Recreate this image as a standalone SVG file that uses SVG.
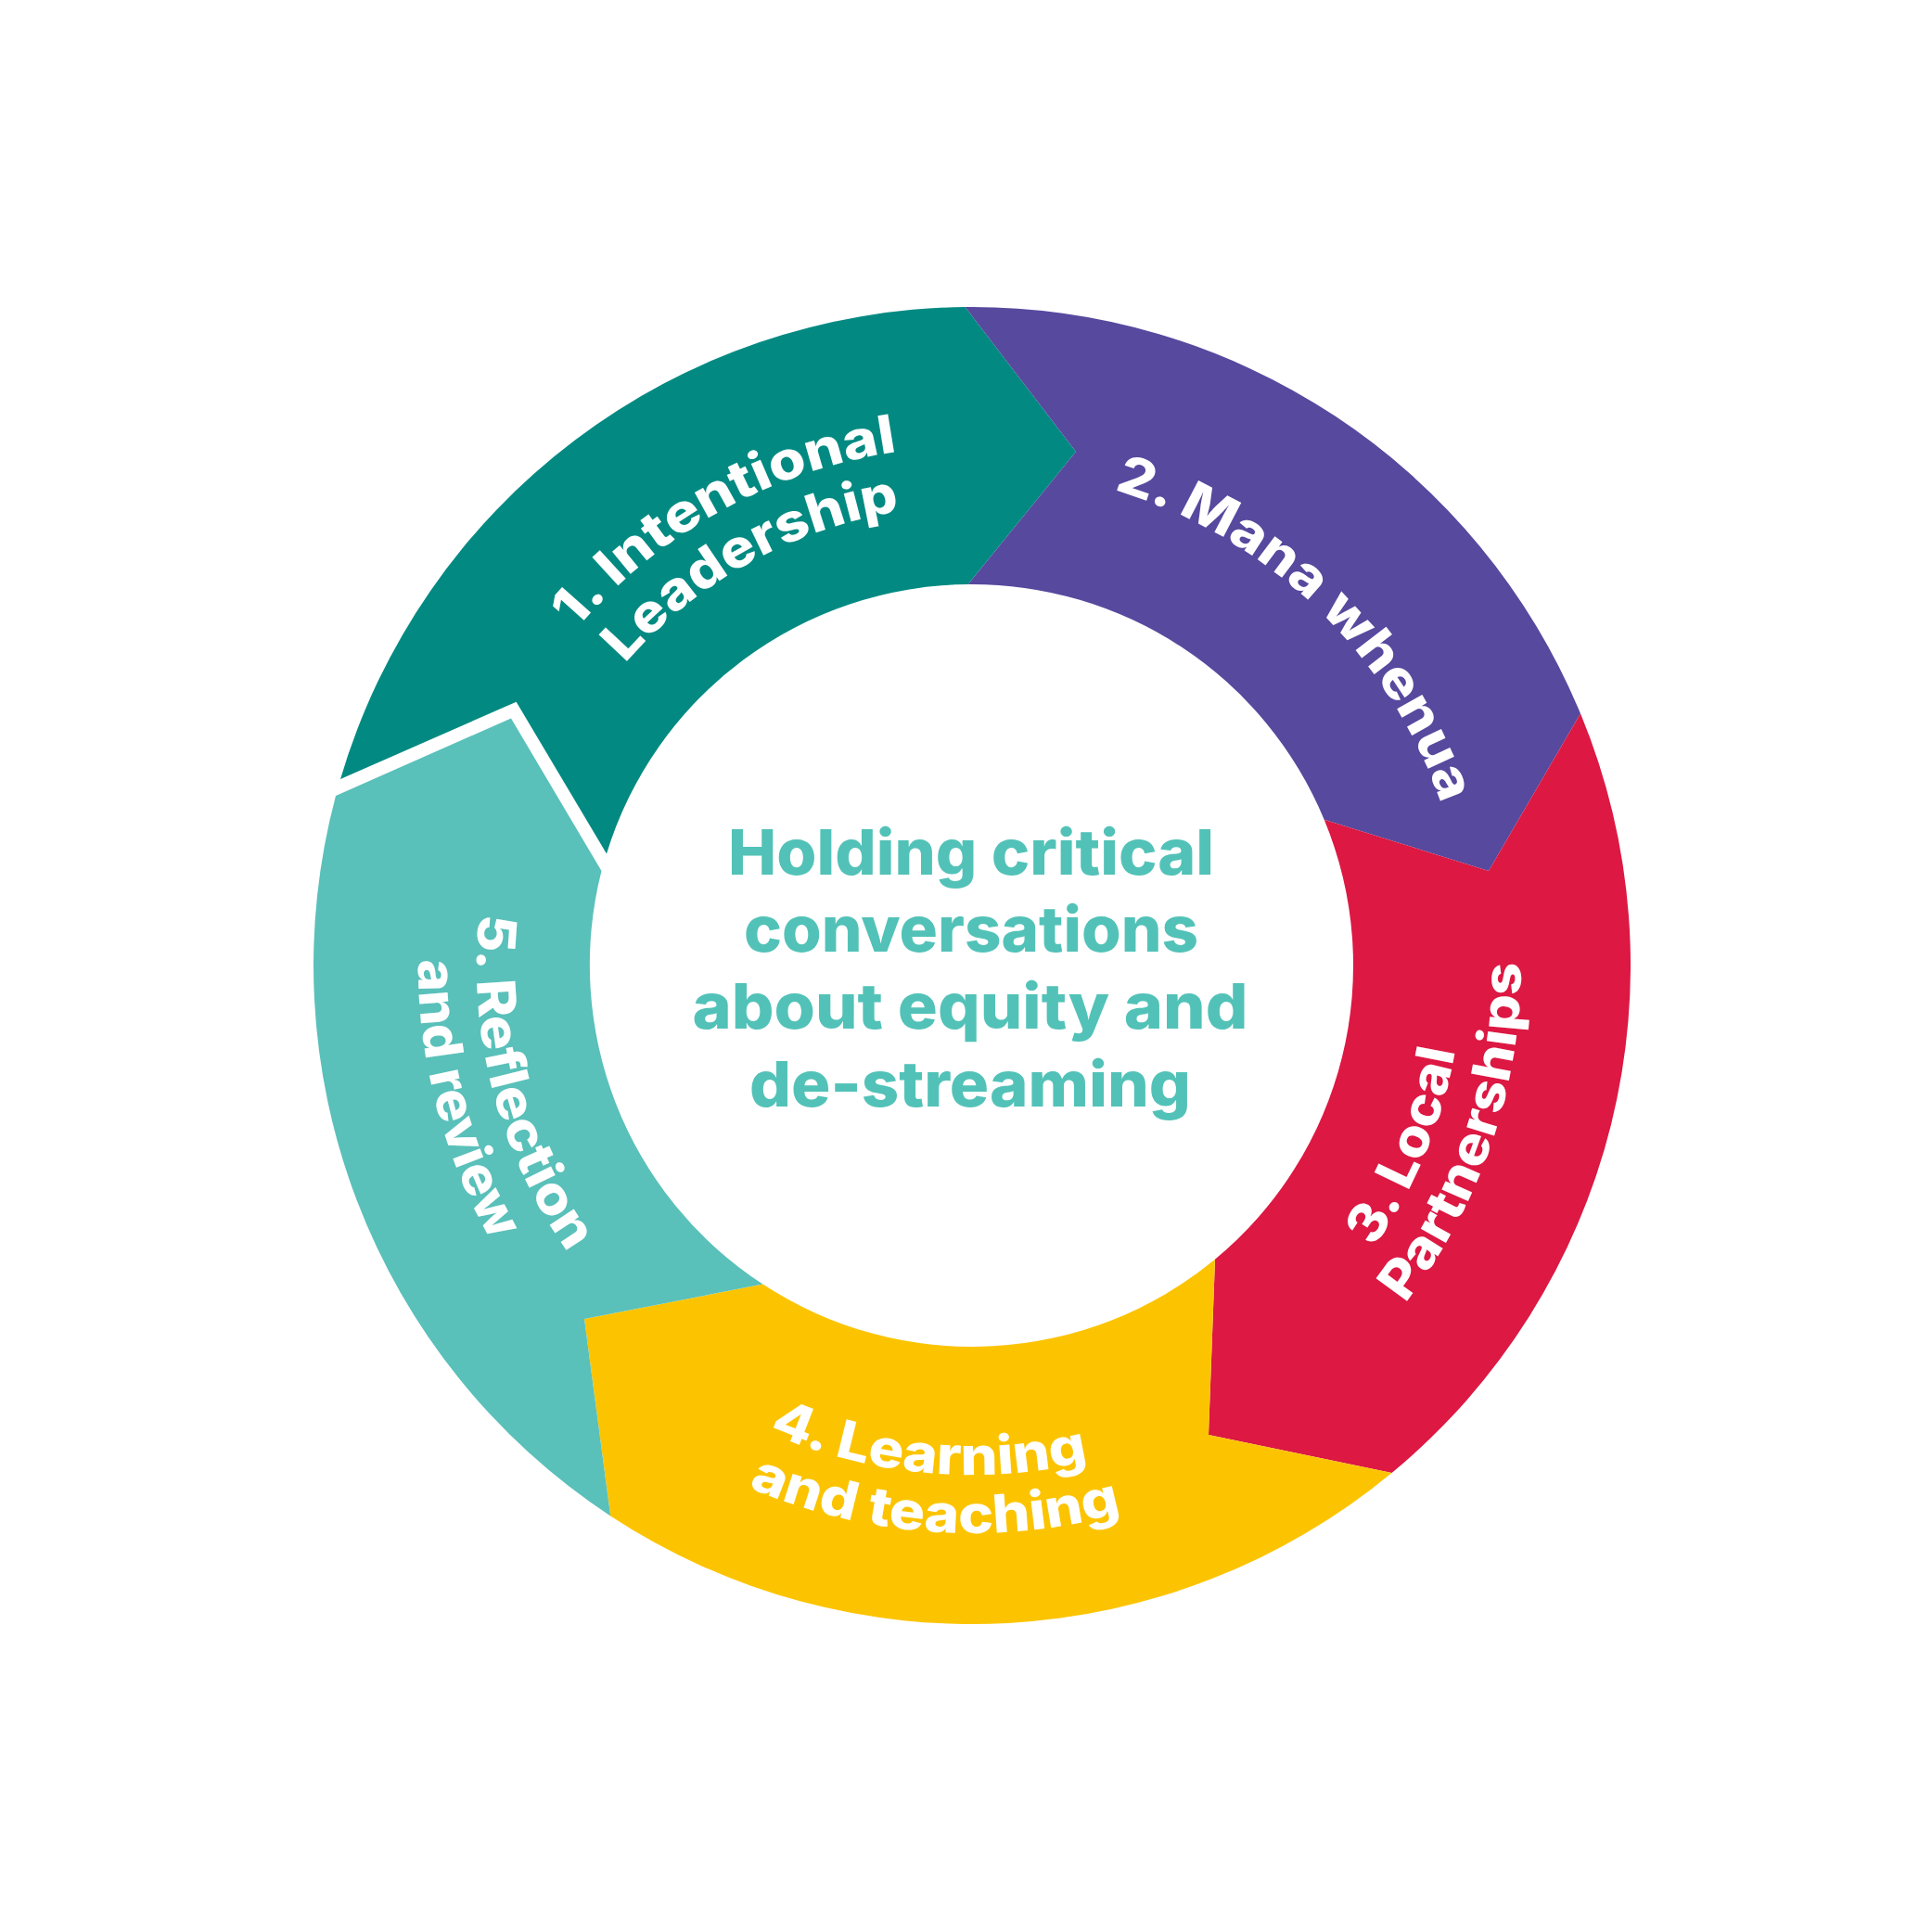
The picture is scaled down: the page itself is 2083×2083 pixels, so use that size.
<svg xmlns="http://www.w3.org/2000/svg" width="2083" height="2083" viewBox="0 0 2083 2083">
  <style>
    .lbl { font-family: Inter, "Open Sans", "Liberation Sans", sans-serif; font-weight: 800; font-size: 57px; fill: #ffffff; }
    .ctr { font-family: Inter, "Open Sans", "Liberation Sans", sans-serif; font-weight: 800; font-size: 68px; fill: #52C2B8; text-anchor: middle; }
  </style>
  <defs>
    <path id="p1a" d="M 488.1 1031.2 A 560 560 0 0 1 1336.4 561.0"/>
    <path id="p1b" d="M 552.1 1032.3 A 496 496 0 0 1 1303.5 615.8"/>
    <path id="p2" d="M 898.7 527.2 A 535 535 0 0 1 1567.6 1168.6"/>
    <path id="p3a" d="M 1116.6 1565.5 A 529 529 0 0 0 1467.9 719.2"/>
    <path id="p3b" d="M 1162.5 1621.8 A 592 592 0 0 0 1493.7 651.4"/>
    <path id="p4a" d="M 549.8 1271.7 A 549 549 0 0 0 1496.9 1357.1"/>
    <path id="p4b" d="M 498.2 1309.8 A 612 612 0 0 0 1555.6 1382.8"/>
    <path id="p5a" d="M 672.4 661.4 A 534 534 0 0 0 907.1 1556.1"/>
    <path id="p5b" d="M 628.4 616.3 A 597 597 0 0 0 890.0 1616.7"/>
  </defs>
  <rect width="2083" height="2083" fill="#ffffff"/>

  <g id="node-1-intentional-leadership">
    <path fill="#028A82" d="M 367 840 A 710 710 0 0 1 1040.6 331 L 1160 487 L 1043.7 630 A 411 411 0 0 0 654 920.5 L 556.6 756.7 Z"/>
    <text class="lbl"><textPath href="#p1a" startOffset="50%" text-anchor="middle" textLength="405" lengthAdjust="spacingAndGlyphs">1. Intentional</textPath></text>
    <text class="lbl"><textPath href="#p1b" startOffset="50%" text-anchor="middle" textLength="346" lengthAdjust="spacingAndGlyphs">Leadership</textPath></text>
  </g>

  <g id="node-2-mana-whenua">
    <path fill="#56499E" d="M 1040.6 331 A 710 710 0 0 1 1704 769.3 L 1605 939 L 1427.7 883.7 A 411 411 0 0 0 1043.7 630 L 1160 487 Z"/>
    <text class="lbl"><textPath href="#p2" startOffset="50%" text-anchor="middle" textLength="508" lengthAdjust="spacingAndGlyphs">2. Mana whenua</textPath></text>
  </g>

  <g id="node-3-local-partnerships">
    <path fill="#DC1843" d="M 1704 769.3 A 710 710 0 0 1 1500.6 1588 L 1303 1547 L 1310 1357.7 A 411 411 0 0 0 1427.7 883.7 L 1605 939 Z"/>
    <text class="lbl"><textPath href="#p3a" startOffset="50%" text-anchor="middle" textLength="232" lengthAdjust="spacingAndGlyphs">3. Local</textPath></text>
    <text class="lbl"><textPath href="#p3b" startOffset="50%" text-anchor="middle" textLength="395" lengthAdjust="spacingAndGlyphs">Partnerships</textPath></text>
  </g>

  <g id="node-4-learning-and-teaching">
    <path fill="#FCC400" d="M 1500.6 1588 A 710 710 0 0 1 658.2 1634.4 L 630 1422 L 822.4 1384.5 A 411 411 0 0 0 1310 1357.7 L 1303 1547 Z"/>
    <text class="lbl"><textPath href="#p4a" startOffset="50%" text-anchor="middle" textLength="352" lengthAdjust="spacingAndGlyphs">4. Learning</textPath></text>
    <text class="lbl"><textPath href="#p4b" startOffset="50%" text-anchor="middle" textLength="411" lengthAdjust="spacingAndGlyphs">and teaching</textPath></text>
  </g>

  <g id="node-5-reflection-and-review">
    <path fill="#5AC0BA" d="M 658.2 1634.4 A 710 710 0 0 1 362 858 L 551 774.5 L 648.5 939 A 411 411 0 0 0 822.4 1384.5 L 630 1422 Z"/>
    <text class="lbl"><textPath href="#p5a" startOffset="50%" text-anchor="middle" textLength="386" lengthAdjust="spacingAndGlyphs">5. Reflection</textPath></text>
    <text class="lbl"><textPath href="#p5b" startOffset="50%" text-anchor="middle" textLength="318" lengthAdjust="spacingAndGlyphs">and review</textPath></text>
  </g>

  <g id="connectors"></g>

  <g id="node-centre">
    <text class="ctr" x="1047" y="943" textLength="524" lengthAdjust="spacingAndGlyphs">Holding critical</text>
    <text class="ctr" x="1047" y="1026" textLength="490" lengthAdjust="spacingAndGlyphs">conversations</text>
    <text class="ctr" x="1046" y="1109" textLength="599" lengthAdjust="spacingAndGlyphs">about equity and</text>
    <text class="ctr" x="1046" y="1193" textLength="476" lengthAdjust="spacingAndGlyphs">de-streaming</text>
  </g>
</svg>
